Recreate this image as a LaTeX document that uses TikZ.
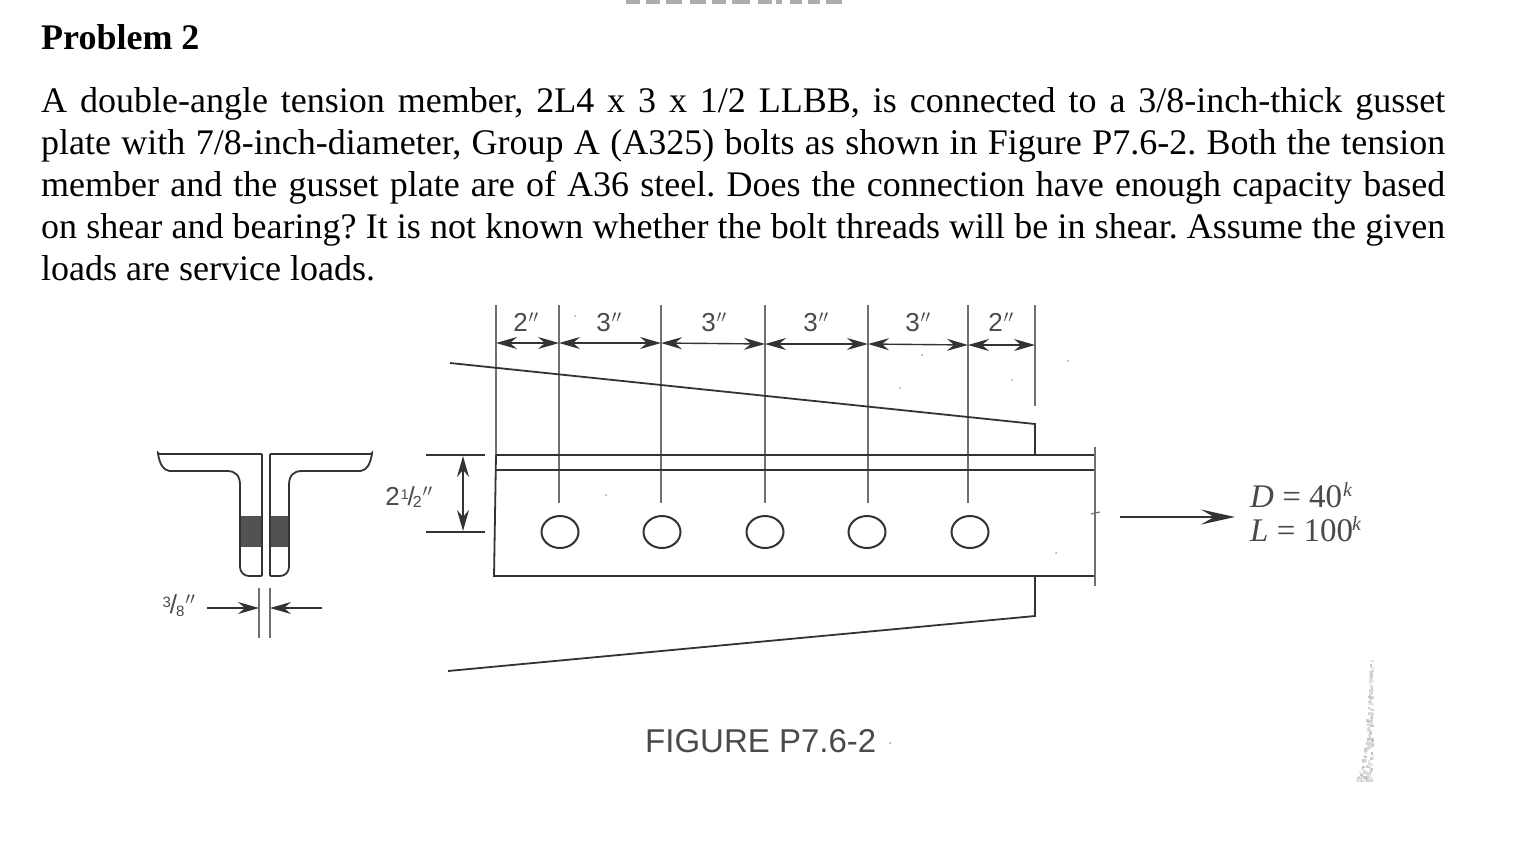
\documentclass[tikz,border=0pt]{standalone}
\usepackage{fontspec}
\setmainfont{Liberation Serif}
\setsansfont{Liberation Sans}
\usetikzlibrary{arrows.meta,shapes.geometric}
\definecolor{ink}{HTML}{333333}
\definecolor{labink}{HTML}{4A4A4A}
\frenchspacing
\tikzset{
  x=1pt,y=-1pt,
  textline/.style={anchor=base west,inner sep=0pt,font=\fontsize{36}{42}\selectfont},
  drawn/.style={draw=ink,line width=1.8pt},
  thick line/.style={draw=ink,line width=2.3pt},
  thin line/.style={draw=ink!70,line width=1.2pt},
  dim/.style={draw=ink,line width=1.4pt,{Stealth[length=21pt,width=12pt,inset=7pt]}-{Stealth[length=21pt,width=12pt,inset=7pt]}},
  dimend/.style={draw=ink,line width=1.4pt,-{Stealth[length=21pt,width=12pt,inset=7pt]}},
  lab/.style={inner sep=0pt,text=labink,font=\sffamily\fontsize{26}{28}\selectfont},
  mathlab/.style={inner sep=0pt,anchor=base west,text=labink,font=\fontsize{33}{34}\selectfont},
  hole/.style={draw=ink,line width=2pt,fill=white,ellipse,minimum width=37pt,minimum height=32pt,inner sep=0pt},
}
\newcommand{\just}[1]{\makebox[1404pt][s]{#1}}
\newcommand{\primes}{\kern1pt\textit{\raisebox{0pt}{$''$}}}
\begin{document}
\begin{tikzpicture}
\useasboundingbox (0,0) rectangle (1514,854);
% clipped heading at the top edge
\foreach \a/\b in {626/640,646/660,666/682,690/706,712/726,732/750,758/772,776/782,790/802,808/820,826/842}
  \fill[ink!40] (\a,0) rectangle (\b,3.5);
% text
\node[textline,font=\bfseries\fontsize{36}{40}\selectfont] (title) at (41,49) {Problem 2};
\node[textline] (l1) at (41,112) {\just{A double-angle tension member, 2L4 x 3 x 1/2 LLBB, is connected to a 3/8-inch-thick gusset}};
\node[textline] (l2) at (41,154) {\just{plate with 7/8-inch-diameter, Group A (A325) bolts as shown in Figure P7.6-2. Both the tension}};
\node[textline] (l3) at (41,196) {\just{member and the gusset plate are of A36 steel. Does the connection have enough capacity based}};
\node[textline] (l4) at (41,238) {\just{on shear and bearing? It is not known whether the bolt threads will be in shear. Assume the given}};
\node[textline] (l5) at (41,280) {loads are service loads.};
% gage lines
\coordinate (g0) at (496,305); \coordinate (g1) at (559,305); \coordinate (g2) at (661,305);
\coordinate (g3) at (765,305); \coordinate (g4) at (868,305); \coordinate (g5) at (968,305);
\coordinate (g6) at (1035,305);
\draw[thin line] (g0) -- (496,462);
\foreach \x in {559,661,765,868,968} \draw[thin line] (\x,305) -- (\x,503);
\draw[thin line] (g6) -- (1035,406);
% dimensions
\coordinate (d0) at (496,343); \coordinate (d1) at (559,343); \coordinate (d2) at (661,343);
\coordinate (d3) at (765,344); \coordinate (d4) at (868,344); \coordinate (d5) at (968,345);
\coordinate (d6) at (1035,345);
\draw[dim] (d0) -- (d1); \draw[dim] (d1) -- (d2); \draw[dim] (d2) -- (d3);
\draw[dim] (d3) -- (d4); \draw[dim] (d4) -- (d5); \draw[dim] (d5) -- (d6);
\node[lab] (t1) at (526,322) {2\primes};
\node[lab] (t2) at (609,322) {3\primes};
\node[lab] (t3) at (714,322) {3\primes};
\node[lab] (t4) at (816,322) {3\primes};
\node[lab] (t5) at (918,322) {3\primes};
\node[lab] (t6) at (1001,322) {2\primes};
% gusset
\draw[drawn] (450,363) -- (1035,424) -- (1035,455);
\draw[drawn] (1035,576) -- (1035,616) -- (448,671);
% member
\draw[thick line] (496,455) -- (1095,455);
\draw[drawn] (496,470) -- (1095,470);
\draw[thick line] (494,576) -- (1095,576);
\draw[drawn] (496,455) -- (494,577);
\draw[thin line] (1095,447) -- (1095,586);
\draw[thin line] (1091,514) -- (1100,512);
% holes
\node[hole] (h1) at (560,532) {};
\node[hole] (h2) at (662,532) {};
\node[hole] (h3) at (765,532) {};
\node[hole] (h4) at (867,532) {};
\node[hole] (h5) at (970,532) {};
% 2 1/2 dimension
\draw[drawn] (426,455) -- (485,455);
\draw[drawn] (426,532) -- (485,532);
\coordinate (a1) at (463,456); \coordinate (a2) at (463,531);
\draw[dim] (a1) -- (a2);
\node[lab] (t7) at (409,497) {2\kern1pt\raisebox{6pt}{\fontsize{14}{14}\selectfont 1}\kern-1pt/\kern-2pt\raisebox{-2pt}{\fontsize{16}{16}\selectfont 2}\primes};
% double angle
\fill[ink!85] (241,516) rectangle (262,547);
\fill[ink!85] (270,516) rectangle (289,547);
\draw[drawn,rounded corners=1pt] (158,454) -- (262,454) -- (262,576) -- (250,576) .. controls (244,576) and (240,572) .. (240,566) -- (240,486) .. controls (240,476) and (236,471) .. (226,471) -- (170,471) .. controls (163,470) and (160,464) .. cycle;
\draw[drawn,rounded corners=1pt] (372,454) -- (270,454) -- (270,576) -- (279,576) .. controls (285,576) and (289,572) .. (289,566) -- (289,486) .. controls (289,476) and (293,471) .. (303,471) -- (360,471) .. controls (367,470) and (370,464) .. cycle;
% 3/8 dimension
\draw[thin line] (259,588) -- (259,638);
\draw[thin line] (270,588) -- (270,638);
\coordinate (b0) at (207,608); \coordinate (b1) at (259,608);
\coordinate (b2) at (322,608); \coordinate (b3) at (270,608);
\draw[dimend] (b0) -- (b1);
\draw[dimend] (b2) -- (b3);
\node[lab] (t8) at (179,606) {\raisebox{6pt}{\fontsize{15}{15}\selectfont 3}\kern-1pt/\kern-1pt\raisebox{-3pt}{\fontsize{15}{15}\selectfont 8}\primes};
% force
\coordinate (f0) at (1120,517); \coordinate (f1) at (1235,517);
\draw[draw=ink,line width=1.4pt,-{Stealth[length=34pt,width=15pt,inset=13pt]}] (f0) -- (f1);
\node[mathlab] (t9) at (1250,507) {\textit{D} = 40\kern1pt\raisebox{11pt}{\fontsize{20}{20}\selectfont\textit{k}}};
\node[mathlab] (t10) at (1250,541) {\textit{L} = 100\kern-1pt\raisebox{11pt}{\fontsize{20}{20}\selectfont\textit{k}}};
% caption
\node[inner sep=0pt,anchor=base west,text=labink,font=\sffamily\fontsize{33}{34}\selectfont] (cap) at (645,752) {FIGURE P7.6-2};
% scan specks
\foreach \x/\y in {1068/361,1012/380,900/388,922/355,606/495,1056/553,890/743,575/316}
  \fill[ink!45] (\x,\y) circle (1pt);
\pgfmathsetseed{17}
\foreach \i in {1,...,170}{
  \pgfmathsetmacro{\u}{rnd}
  \pgfmathsetmacro{\v}{rnd}
  \pgfmathsetmacro{\py}{779.5-120*\u*\u}
  \pgfmathsetmacro{\px}{1371.5-(6+12*(1-\u))*\v*(1-\u*0.65)}
  \pgfmathsetmacro{\sh}{int(8+22*rnd)}
  \fill[ink!\sh] (\px,\py) rectangle +(2.5,2.5);
}
\end{tikzpicture}
\end{document}
